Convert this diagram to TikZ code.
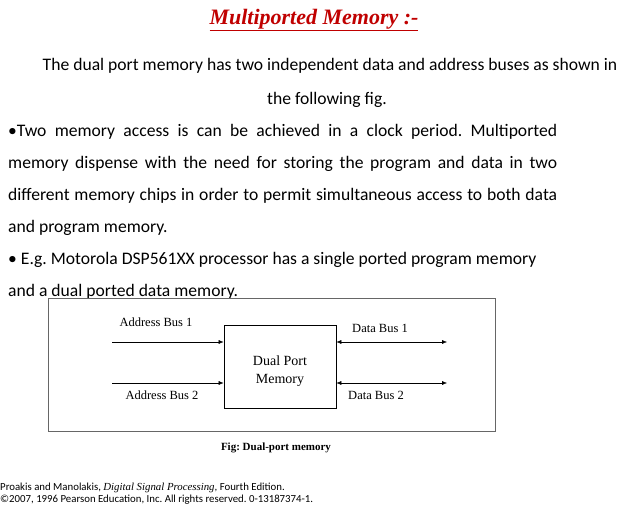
\documentclass[tikz,border=0pt]{standalone}
\usepackage{fontspec}
\setmainfont{Carlito}
\newfontfamily\serifx{Liberation Serif}
\usetikzlibrary{arrows.meta}
\definecolor{titlered}{HTML}{C00000}
\frenchspacing
\begin{document}
\begin{tikzpicture}[x=1pt,y=-1pt,
  body/.style={inner sep=0pt,font=\fontsize{17.6}{32}\selectfont},
  lbl/.style={inner sep=0pt,font=\serifx\fontsize{12.5}{14}\selectfont},
  bus/.style={-{Latex[length=5pt,width=4pt]}},
  dbus/.style={{Latex[length=5pt,width=4pt]}-{Latex[length=5pt,width=4pt]}}]
  \useasboundingbox (0,0) rectangle (638,510);
  % title and text
  \node[inner sep=0pt,text=titlered,font=\serifx\fontsize{22}{24}\selectfont\bfseries\itshape] (title) at (314,20) {\underline{Multiported Memory :-}};
  \node[body] (l1) at (330,66) {The dual port memory has two independent data and address buses as shown in};
  \node[body] (l2) at (327,100) {the following fig.};
  \node[body,anchor=north west,text width=549pt,align=justify] (para) at (8,124)
    {\hbadness=10000 •Two memory access is can be achieved in a clock period. Multiported\linebreak
     memory dispense with the need for storing the program and data in two\linebreak
     different memory chips in order to permit simultaneous access to both data\linebreak
     and program memory.\\
     • E.g. Motorola DSP561XX processor has a single ported program memory\\
     and a dual ported data memory.};
  % figure
  \draw[gray!80!black,thick] (48,298) rectangle (495,431);
  \node[draw,thick,minimum width=112pt,minimum height=83pt,inner sep=0pt] (mem) at (280,366.5) {};
  \node[lbl,align=center,font=\serifx\fontsize{14}{18}\selectfont] (memt) at (280,371) {Dual Port\\Memory};
  \coordinate (a1) at (112,342);
  \coordinate (a2) at (112,383);
  \coordinate (d1) at (447,342);
  \coordinate (d2) at (447,383);
  \draw[bus] (a1) -- (a1 -| mem.west);
  \draw[bus] (a2) -- (a2 -| mem.west);
  \draw[dbus] (d1 -| mem.east) -- (d1);
  \draw[dbus] (d2 -| mem.east) -- (d2);
  \node[lbl] (ab1) at (156,322) {Address Bus 1};
  \node[lbl] (ab2) at (162,395) {Address Bus 2};
  \node[lbl] (db1) at (380,328) {Data Bus 1};
  \node[lbl] (db2) at (376,395) {Data Bus 2};
  \node[lbl,font=\serifx\fontsize{11}{13}\selectfont\bfseries] (cap) at (276,448) {Fig: Dual-port memory};
  % footer
  \node[inner sep=0pt,anchor=west,font=\fontsize{10.8}{12}\selectfont] (f1) at (0,488) {Proakis and Manolakis, {\serifx\itshape Digital Signal Processing}, Fourth Edition.};
  \node[inner sep=0pt,anchor=west,font=\fontsize{10.8}{12}\selectfont] (f2) at (0,500) {©2007, 1996 Pearson Education, Inc. All rights reserved. 0-13187374-1.};
\end{tikzpicture}
\end{document}
